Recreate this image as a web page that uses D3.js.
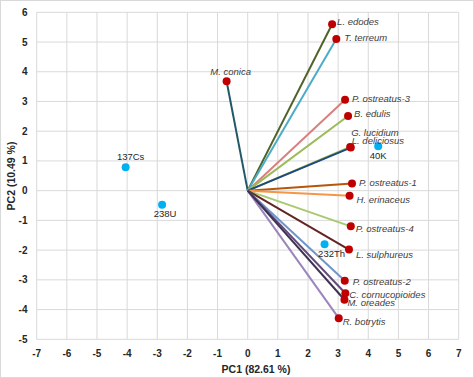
<!DOCTYPE html>
<html>
<head>
<meta charset="utf-8">
<script src="https://cdn.jsdelivr.net/npm/d3@7"></script>
<style>
  body { margin: 0; background: #fff; }
  svg { display: block; font-family: "Liberation Sans", Arial, sans-serif; }
</style>
</head>
<body>
<div id="chart"></div>
<script>
// species loadings (red points with lines from origin)
var species = ['M. conica', 'L. edodes', 'T. terreum', 'P. ostreatus-3', 'B. edulis', 'G. lucidium',
  'L. deliciosus', 'P. ostreatus-1', 'H. erinaceus', 'P. ostreatus-4', 'L. sulphureus',
  'P. ostreatus-2', 'R. botrytis', 'C. cornucopioides', 'M. oreades'];
var speciesPC1 = [-0.70, 2.80, 2.94, 3.23, 3.33, 3.40, 3.42, 3.46, 3.38, 3.42, 3.36, 3.22, 3.02, 3.24, 3.21];
var speciesPC2 = [3.68, 5.60, 5.10, 3.06, 2.51, 1.47, 1.45, 0.24, -0.17, -1.20, -1.98, -3.03, -4.29, -3.45, -3.67];

// radionuclides (blue points)
var nuclides = ['137Cs', '238U', '40K', '232Th'];
var nuclidePC1 = [-4.05, -2.84, 4.33, 2.55];
var nuclidePC2 = [0.79, -0.47, 1.49, -1.80];

var xTicks = [-7, -6, -5, -4, -3, -2, -1, 0, 1, 2, 3, 4, 5, 6, 7];
var yTicks = [-5, -4, -3, -2, -1, 0, 1, 2, 3, 4, 5, 6];

// styling
var lineColors = ['#215968', '#4f6228', '#4bacc6', '#d9807e', '#9bbb59', '#9bbb59',
  '#1f497d', '#b65708', '#f79646', '#a9c96f', '#632523',
  '#6f95c9', '#9c84bd', '#604a7b', '#3f3151'];
// label offsets [dx, dy] relative to the point (dy = text centre)
var speciesLabelPos = [[4, -10, 'middle'], [5, -3], [8, -2], [7, -1], [6, -3], [1, -14],
  [1, -7], [7, -1], [7, 4], [5, 2], [7, 5], [8, 1], [4, 3], [4, 1], [3, 3]];
var nuclideLabelPos = [[5, -11], [3, 9], [0, 9], [7, 9]];

var width = 474, height = 378;
var svg = d3.select('#chart').append('svg')
  .attr('width', width).attr('height', height);

var x = d3.scaleLinear().domain([-7, 7]).range([36.7, 458.7]);
var y = d3.scaleLinear().domain([-5, 6]).range([339.3, 12.3]);

// outer frame
svg.append('rect')
  .attr('x', 0.5).attr('y', 0.5).attr('width', width - 1).attr('height', height - 1)
  .attr('fill', 'none').attr('stroke', '#d9d9d9');

// grid
var grid = svg.append('g').attr('stroke', '#d9d9d9').attr('stroke-width', 1);
grid.selectAll('line.v').data(xTicks).enter().append('line')
  .attr('x1', d => x(d)).attr('x2', d => x(d))
  .attr('y1', y(6)).attr('y2', y(-5));
grid.selectAll('line.h').data(yTicks).enter().append('line')
  .attr('x1', x(-7)).attr('x2', x(7))
  .attr('y1', d => y(d)).attr('y2', d => y(d));

// tick labels
svg.append('g').selectAll('text').data(xTicks).enter().append('text')
  .attr('x', d => x(d)).attr('y', 353.5)
  .attr('text-anchor', 'middle').attr('dominant-baseline', 'central')
  .attr('font-size', 10).attr('font-weight', 'bold').attr('fill', '#262626')
  .text(d => d);
svg.append('g').selectAll('text').data(yTicks).enter().append('text')
  .attr('x', 27.5).attr('y', d => y(d))
  .attr('text-anchor', 'end').attr('dominant-baseline', 'central')
  .attr('font-size', 10).attr('font-weight', 'bold').attr('fill', '#262626')
  .text(d => d);

// axis titles
svg.append('text')
  .attr('x', 256).attr('y', 369)
  .attr('text-anchor', 'middle').attr('dominant-baseline', 'central')
  .attr('font-size', 10.5).attr('font-weight', 'bold').attr('fill', '#262626')
  .text('PC1 (82.61 %)');
svg.append('text')
  .attr('transform', 'translate(11,' + 176 + ') rotate(-90)')
  .attr('text-anchor', 'middle').attr('dominant-baseline', 'central')
  .attr('font-size', 10.5).attr('font-weight', 'bold').attr('fill', '#262626')
  .text('PC2 (10.49 %)');

// loading lines
svg.append('g').selectAll('line').data(species).enter().append('line')
  .attr('x1', x(0)).attr('y1', y(0))
  .attr('x2', (d, i) => x(speciesPC1[i])).attr('y2', (d, i) => y(speciesPC2[i]))
  .attr('stroke', (d, i) => lineColors[i]).attr('stroke-width', 2);

// species points
svg.append('g').selectAll('circle').data(species).enter().append('circle')
  .attr('cx', (d, i) => x(speciesPC1[i])).attr('cy', (d, i) => y(speciesPC2[i]))
  .attr('r', 4).attr('fill', '#c00000');

// nuclide points
svg.append('g').selectAll('circle').data(nuclides).enter().append('circle')
  .attr('cx', (d, i) => x(nuclidePC1[i])).attr('cy', (d, i) => y(nuclidePC2[i]))
  .attr('r', 4).attr('fill', '#00b0f0');

// species labels
svg.append('g').selectAll('text').data(species).enter().append('text')
  .attr('x', (d, i) => x(speciesPC1[i]) + speciesLabelPos[i][0])
  .attr('y', (d, i) => y(speciesPC2[i]) + speciesLabelPos[i][1])
  .attr('text-anchor', (d, i) => speciesLabelPos[i][2] || 'start')
  .attr('dominant-baseline', 'central')
  .attr('font-size', 9.5).attr('font-style', 'italic').attr('fill', '#404040')
  .text(d => d);

// nuclide labels
svg.append('g').selectAll('text').data(nuclides).enter().append('text')
  .attr('x', (d, i) => x(nuclidePC1[i]) + nuclideLabelPos[i][0])
  .attr('y', (d, i) => y(nuclidePC2[i]) + nuclideLabelPos[i][1])
  .attr('text-anchor', 'middle').attr('dominant-baseline', 'central')
  .attr('font-size', 9.5).attr('fill', '#262626')
  .text(d => d);
</script>
</body>
</html>
